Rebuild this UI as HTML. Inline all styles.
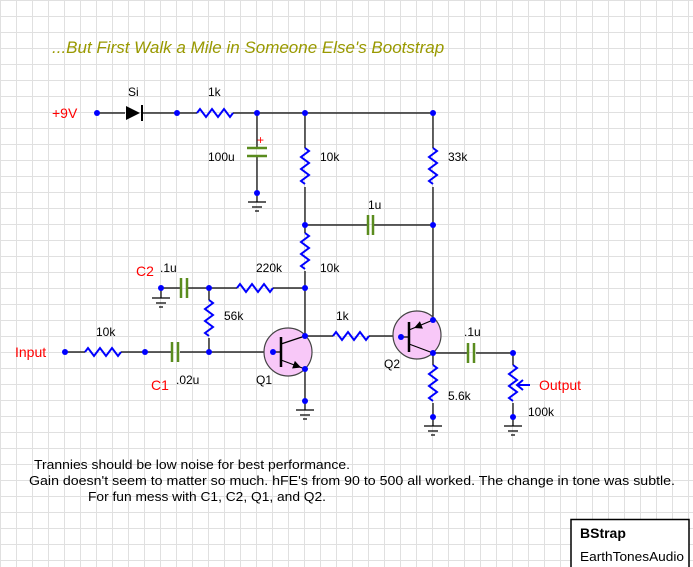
<!DOCTYPE html>
<html><head><meta charset="utf-8"><style>
html,body{margin:0;padding:0;background:#fff}
svg{display:block}
text{font-family:"Liberation Sans",sans-serif}
</style></head><body>
<svg width="693" height="567" viewBox="0 0 693 567" xmlns="http://www.w3.org/2000/svg">
<defs>
<pattern id="g" x="0" y="0" width="16" height="16" patternUnits="userSpaceOnUse">
<path d="M0.5 0V16M0 0.5H16" stroke="#e0e0e0" stroke-width="1" fill="none"/>
</pattern>
</defs>
<rect width="693" height="567" fill="url(#g)"/>

<text x="52" y="53" font-size="17" font-style="italic" fill="#999900">...But First Walk a Mile in Someone Else's Bootstrap</text>

<g stroke="#000" stroke-width="1.2" fill="none">
<path d="M97 113H125M142 113H197M233 113H433V148M433 187V320"/>
<path d="M257 113V148M257 156V193"/>
<path d="M305 113V148M305 187V233M305 271V336"/>
<path d="M305 225H368M372 225H433"/>
<path d="M161 288H181M188 288H237M273 288H305"/>
<path d="M209 288V300M209 338V352"/>
<path d="M65 352H85M121 352H172M180 352H273"/>
<path d="M305 336H333M369 336H401"/>
<path d="M305 369V401"/>
<path d="M433 353H468M476 353H513V365M513 403V417"/>
<path d="M433 353V365M433 403V417"/>
<path d="M257 193V202M248 202H266M252 207H262M255 211H259"/>
<path d="M161 288V298M152 298H170M156 303H166M159 307H163"/>
<path d="M305 401V410M296 410H314M300 415H310M303 419H307"/>
<path d="M433 417V426M424 426H442M428 431H438M431 435H435"/>
<path d="M513 417V426M504 426H522M508 431H518M511 435H515"/>
</g>

<path d="M126 106L140 113L126 120Z" fill="#000"/>
<path d="M142 105V121" stroke="#000" stroke-width="2"/>

<g stroke="#0000ff" stroke-width="2" fill="none">
<path d="M197 113l3 -4l6 8l6 -8l6 8l6 -8l6 8l3 -4"/>
<path d="M237 288l3 -4l6 8l6 -8l6 8l6 -8l6 8l3 -4"/>
<path d="M85 352l3 -4l6 8l6 -8l6 8l6 -8l6 8l3 -4"/>
<path d="M333 336l3 -4l6 8l6 -8l6 8l6 -8l6 8l3 -4"/>
<path d="M305 148l4 3l-8 6l8 6l-8 6l8 6l-8 6l4 3"/>
<path d="M305 233l4 3l-8 6l8 6l-8 6l8 6l-8 6l4 3"/>
<path d="M433 148l4 3l-8 6l8 6l-8 6l8 6l-8 6l4 3"/>
<path d="M209 300l4 3l-8 6l8 6l-8 6l8 6l-8 6l4 3"/>
<path d="M433 365l4 3l-8 6l8 6l-8 6l8 6l-8 6l4 3"/>
<path d="M513 365l4 3l-8 6l8 6l-8 6l8 6l-8 6l4 3"/>
<path d="M530 385H518M523 380L517 385L523 390"/>
</g>

<g stroke="#5a8c1e" stroke-width="2.5" fill="none">
<path d="M247 148H267M247 156H267"/>
<path d="M368 215V235M373 215V235"/>
<path d="M181 278V298M187 278V298"/>
<path d="M172 342V362M178 342V362"/>
<path d="M468 343V363M474 343V363"/>
</g>
<text x="257" y="144" font-size="12" fill="#ff0000">+</text>

<circle cx="288" cy="352" r="24" fill="#f8c8f8" stroke="#444" stroke-width="1.2"/>
<circle cx="417" cy="335" r="24" fill="#f8c8f8" stroke="#444" stroke-width="1.2"/>
<g stroke="#000" stroke-width="1.2" fill="none">
<path d="M273 352H281M281 344L305 336M281 360L305 369"/>
<path d="M401 337H409M409 330L433 320M409 344L433 353"/>
</g>
<path d="M281 337V367M409 322V352" stroke="#000" stroke-width="2.5"/>
<path d="M301 367.5L292.1 368.5L294.9 360.9Z" fill="#000"/>
<path d="M414 328L422.9 328.6L419.9 321.2Z" fill="#000"/>

<g fill="#0000ff">
<circle cx="97" cy="113" r="3"/><circle cx="177" cy="113" r="3"/><circle cx="257" cy="113" r="3"/>
<circle cx="305" cy="113" r="3"/><circle cx="433" cy="113" r="3"/><circle cx="257" cy="193" r="3"/>
<circle cx="305" cy="225" r="3"/><circle cx="433" cy="225" r="3"/><circle cx="305" cy="288" r="3"/>
<circle cx="209" cy="288" r="3"/><circle cx="161" cy="288" r="3"/><circle cx="209" cy="352" r="3"/>
<circle cx="65" cy="352" r="3"/><circle cx="145" cy="352" r="3"/><circle cx="273" cy="352" r="3"/>
<circle cx="305" cy="336" r="3"/><circle cx="305" cy="369" r="3"/><circle cx="305" cy="401" r="3"/>
<circle cx="401" cy="337" r="3"/><circle cx="433" cy="320" r="3"/><circle cx="433" cy="353" r="3"/>
<circle cx="513" cy="353" r="3"/><circle cx="433" cy="417" r="3"/><circle cx="513" cy="417" r="3"/>
</g>

<g font-size="12" fill="#000">
<text x="128" y="96">Si</text>
<text x="208" y="96">1k</text>
<text x="208" y="161">100u</text>
<text x="320" y="161">10k</text>
<text x="448" y="161">33k</text>
<text x="368" y="209">1u</text>
<text x="320" y="272">10k</text>
<text x="256" y="272">220k</text>
<text x="160" y="272">.1u</text>
<text x="224" y="320">56k</text>
<text x="96" y="336">10k</text>
<text x="176" y="384">.02u</text>
<text x="256" y="384">Q1</text>
<text x="336" y="320">1k</text>
<text x="384" y="368">Q2</text>
<text x="464" y="336">.1u</text>
<text x="448" y="400">5.6k</text>
<text x="528" y="416">100k</text>
</g>
<g font-size="14" fill="#ff0000">
<text x="52" y="118">+9V</text>
<text x="136" y="276">C2</text>
<text x="15" y="357">Input</text>
<text x="151" y="390">C1</text>
<text x="539" y="390">Output</text>
</g>

<g font-size="13" fill="#000">
<text x="34" y="469" textLength="316" lengthAdjust="spacingAndGlyphs">Trannies should be low noise for best performance.</text>
<text x="29" y="485" textLength="646" lengthAdjust="spacingAndGlyphs">Gain doesn't seem to matter so much.  hFE's from 90 to 500 all worked.  The change in tone was subtle.</text>
<text x="88" y="501" textLength="238" lengthAdjust="spacingAndGlyphs">For fun mess with C1, C2, Q1, and Q2.</text>
</g>

<rect x="571" y="519.5" width="118" height="60" fill="#fff" stroke="#000" stroke-width="1.5"/>
<text x="580" y="538" font-size="14" font-weight="bold">BStrap</text>
<text x="580" y="561" font-size="12.5" textLength="104" lengthAdjust="spacingAndGlyphs">EarthTonesAudio</text>
</svg>
</body></html>
